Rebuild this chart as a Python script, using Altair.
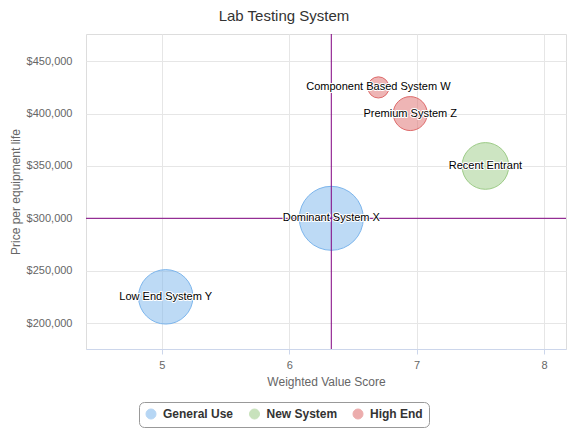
import altair as alt
import pandas as pd

# ---- data ----
names = ["Component Based System W", "Premium System Z", "Recent Entrant",
         "Dominant System X", "Low End System Y"]
categories = ["High End", "High End", "New System", "General Use", "General Use"]
scores = [6.70, 6.95, 7.54, 6.33, 5.03]
prices = [425000, 400000, 350000, 300000, 225000]
weights = [9.5, 27, 52.5, 100, 72]

legend_order = ["General Use", "New System", "High End"]
base_colors = ["#7cb5ec", "#9ccb86", "#de6b6b"]

ref_score = [6.33]
ref_price = [300000]

x_ticks = [5, 6, 7, 8]
y_ticks = [200000, 250000, 300000, 350000, 400000, 450000]

df = pd.DataFrame({"name": names, "category": categories, "score": scores,
                   "price": prices, "weight": weights})
vline = pd.DataFrame({"score": ref_score})
hline = pd.DataFrame({"price": ref_price})

FONT = "Liberation Sans"

xscale = alt.Scale(domain=[4.404, 8.173], nice=False, zero=False)
yscale = alt.Scale(domain=[175200, 476000], nice=False, zero=False)

xenc = alt.X("score:Q", scale=xscale, title="Weighted Value Score",
             axis=alt.Axis(values=x_ticks, format="d", grid=True, gridColor="#e6e6e6",
                           domainColor="#ccd6eb", tickColor="#ccd6eb", tickSize=5,
                           labelPadding=5, titlePadding=6,
                           labelFont=FONT, labelFontSize=11, labelColor="#666666",
                           titleFont=FONT, titleFontSize=12, titleColor="#666666",
                           titleFontWeight="normal"))
yenc = alt.Y("price:Q", scale=yscale, title="Price per equipment life",
             axis=alt.Axis(values=y_ticks, format="$,.0f", grid=True, gridColor="#e6e6e6",
                           domain=False, ticks=False, tickSize=0,
                           labelPadding=14, titlePadding=4,
                           labelFont=FONT, labelFontSize=11, labelColor="#666666",
                           titleFont=FONT, titleFontSize=12, titleColor="#666666",
                           titleFontWeight="normal"))

leg = alt.Legend(title=None, orient="none", legendX=53, legendY=368,
                 direction="horizontal", symbolType="circle", symbolSize=100,
                 symbolOpacity=0.55,
                 labelFontSize=12, labelFontWeight="bold", labelColor="#333333",
                 labelFont=FONT, labelOffset=6, columnPadding=13.5, padding=6,
                 strokeColor="#999999", fillColor="#ffffff", cornerRadius=5,
                 symbolStrokeWidth=1)

bubbles = alt.Chart(df).mark_circle(fillOpacity=0.5, strokeWidth=1, strokeOpacity=1).encode(
    x=xenc,
    y=yenc,
    size=alt.Size("weight:Q", scale=alt.Scale(type="linear", domain=[0, 100], range=[64, 4096]),
                  legend=None),
    fill=alt.Fill("category:N", scale=alt.Scale(domain=legend_order, range=base_colors), legend=leg),
    stroke=alt.Stroke("category:N", scale=alt.Scale(domain=legend_order, range=base_colors), legend=leg),
)

vrule = alt.Chart(vline).mark_rule(color="#800080", strokeWidth=1).encode(x=alt.X("score:Q", scale=xscale))
hrule = alt.Chart(hline).mark_rule(color="#800080", strokeWidth=1).encode(y=alt.Y("price:Q", scale=yscale))

label_outline = alt.Chart(df).mark_text(font=FONT, fontSize=11, color="#ffffff", stroke="#ffffff",
                                        strokeWidth=2, strokeJoin="round", align="center",
                                        baseline="middle").encode(
    x=alt.X("score:Q", scale=xscale), y=alt.Y("price:Q", scale=yscale), text="name:N")
labels = alt.Chart(df).mark_text(font=FONT, fontSize=11, color="#000000", align="center",
                                 baseline="middle").encode(
    x=alt.X("score:Q", scale=xscale), y=alt.Y("price:Q", scale=yscale), text="name:N")

chart = alt.layer(bubbles, vrule, hrule, label_outline, labels).properties(
    width=480, height=315,
    title=alt.TitleParams("Lab Testing System", fontSize=15, fontWeight="normal", color="#333333",
                          font=FONT, anchor="middle", frame="group", dx=-42, offset=10),
    autosize=alt.AutoSizeParams(type="none"),
    padding={"left": 78, "top": 26, "right": 12, "bottom": 79},
).configure_view(stroke="#cccccc", strokeWidth=1).configure(background="#ffffff")

chart.save("out.html", embed_options={"renderer": "svg", "actions": False})
